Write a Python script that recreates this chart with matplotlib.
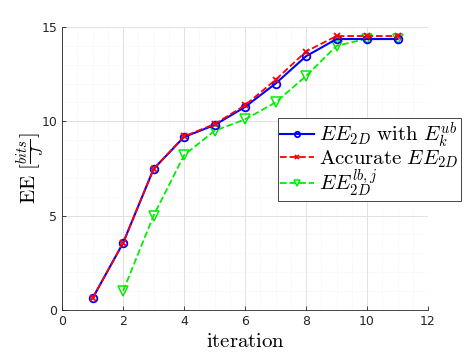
import matplotlib
matplotlib.use("Agg")
import matplotlib.pyplot as plt
from matplotlib.ticker import MultipleLocator

plt.rcParams['mathtext.fontset'] = 'cm'

iters_a = [1, 2, 3, 4, 5, 6, 7, 8, 9, 10, 11]
ee_ub = [0.62, 3.55, 7.47, 9.17, 9.80, 10.76, 12.0, 13.45, 14.36, 14.36, 14.36]
ee_acc = [0.62, 3.55, 7.47, 9.20, 9.85, 10.85, 12.2, 13.7, 14.52, 14.52, 14.52]
iters_b = [2, 3, 4, 5, 6, 7, 8, 9, 10, 11]
ee_lb = [1.0, 5.0, 8.2, 9.5, 10.1, 11.0, 12.4, 14.0, 14.38, 14.38]

fig = plt.figure(figsize=(4.74, 3.55), dpi=100)
ax = fig.add_axes([0.131, 0.127, 0.772, 0.797])

ax.plot(iters_a, ee_ub, color='#0000ff', lw=1.5, marker='o', ms=5.5, mfc='none', mew=1.3,
        label=r'$EE_{2D}\ \mathrm{with}\ E_k^{ub}$', zorder=3)
ax.plot(iters_a, ee_acc, color='#ff0000', lw=1.3, ls='--', marker='x', ms=4, mew=1.3,
        label=r'$\mathrm{Accurate}\ EE_{2D}$', zorder=4)
ax.plot(iters_b, ee_lb, color='#00ee00', lw=1.3, ls='--', marker='v', ms=6.5, mfc='none', mew=1.1,
        label=r'$EE_{2D}^{lb,j}$', zorder=2)

ax.set_xlim(0, 12)
ax.set_ylim(0, 15)
ax.xaxis.set_major_locator(MultipleLocator(2))
ax.xaxis.set_minor_locator(MultipleLocator(0.5))
ax.yaxis.set_major_locator(MultipleLocator(5))
ax.yaxis.set_minor_locator(MultipleLocator(1))
ax.grid(which='major', color='#dddddd', lw=0.6)
ax.grid(which='minor', color='#eeeeee', lw=0.5, ls=':')
ax.set_axisbelow(True)

for s in ['top', 'right']:
    ax.spines[s].set_visible(False)
for s in ['left', 'bottom']:
    ax.spines[s].set_color('#262626')
    ax.spines[s].set_linewidth(0.6)
ax.tick_params(which='major', direction='in', length=3, width=0.6, colors='#262626',
               labelsize=9, labelcolor='#262626')
ax.tick_params(which='minor', length=0)

ax.set_xlabel(r'$\mathrm{iteration}$', fontsize=15, labelpad=2)
ax.set_ylabel(r'$\mathrm{EE}\ [\frac{bits}{J}]$', fontsize=15, labelpad=-4)

leg = ax.legend(loc='upper left', bbox_to_anchor=(0.59, 0.678), fontsize=15,
                frameon=True, fancybox=False, edgecolor='#262626', framealpha=1,
                handlelength=1.6, borderpad=0.12, labelspacing=-0.1, handletextpad=0.25,
                borderaxespad=0, markerscale=0.7)
leg.get_frame().set_linewidth(0.6)

fig.savefig('out.png', dpi=100)
